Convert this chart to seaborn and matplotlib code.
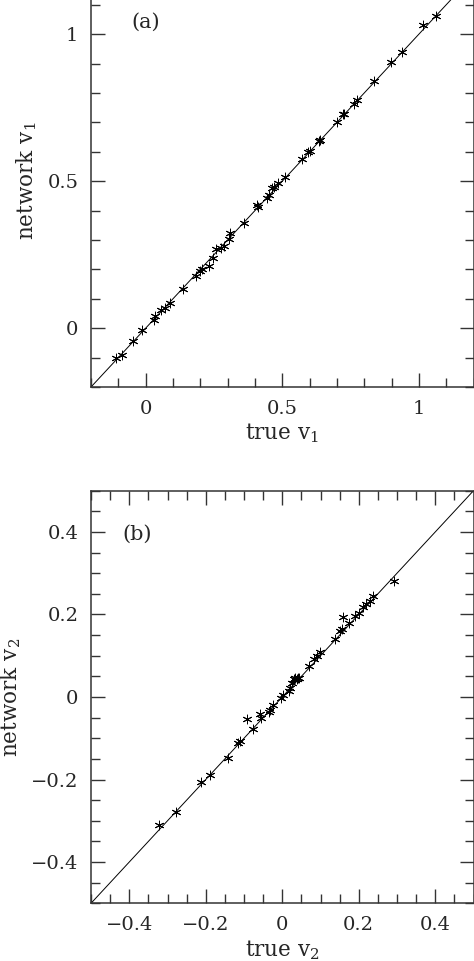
import seaborn as sns
import pandas as pd
import matplotlib.pyplot as plt
from matplotlib.ticker import MultipleLocator

# ---------------- data ----------------
# panel (a): v1
true_v1 = [-0.110, -0.086, -0.047, -0.012, 0.029, 0.034, 0.056, 0.070, 0.088, 0.137,
           0.185, 0.199, 0.207, 0.231, 0.245, 0.259, 0.274, 0.286, 0.305, 0.310,
           0.361, 0.407, 0.413, 0.443, 0.450, 0.461, 0.470, 0.485, 0.510, 0.573,
           0.600, 0.596, 0.637, 0.633, 0.700, 0.727, 0.724, 0.764, 0.774, 0.834,
           0.898, 0.937, 1.015, 1.061]
net_v1 = [-0.102, -0.091, -0.045, -0.006, 0.028, 0.042, 0.062, 0.068, 0.085, 0.135,
          0.176, 0.196, 0.200, 0.213, 0.238, 0.268, 0.272, 0.280, 0.302, 0.323,
          0.357, 0.419, 0.411, 0.442, 0.453, 0.476, 0.479, 0.493, 0.515, 0.575,
          0.604, 0.600, 0.640, 0.636, 0.702, 0.730, 0.727, 0.764, 0.776, 0.840,
          0.904, 0.940, 1.031, 1.062]

# panel (b): v2
true_v2 = [-0.322, -0.277, -0.213, -0.190, -0.141, -0.115, -0.111, -0.091, -0.077, -0.057,
           -0.055, -0.035, -0.031, -0.023, -0.003, 0.002, 0.017, 0.021, 0.026, 0.030,
           0.033, 0.038, 0.041, 0.045, 0.070, 0.084, 0.091, 0.099, 0.137, 0.152,
           0.157, 0.160, 0.174, 0.189, 0.200, 0.211, 0.218, 0.230, 0.237, 0.291]
net_v2 = [-0.311, -0.279, -0.206, -0.188, -0.148, -0.111, -0.107, -0.054, -0.077, -0.042,
          -0.050, -0.036, -0.032, -0.019, -0.002, 0.006, 0.015, 0.023, 0.035, 0.043,
          0.045, 0.043, 0.047, 0.045, 0.075, 0.091, 0.100, 0.109, 0.140, 0.160,
          0.166, 0.193, 0.179, 0.197, 0.203, 0.218, 0.225, 0.233, 0.244, 0.282]

df1 = pd.DataFrame({'true': true_v1, 'network': net_v1})
df2 = pd.DataFrame({'true': true_v2, 'network': net_v2})

# ---------------- style ----------------
sns.set_style('ticks')
plt.rcParams['font.family'] = ['DejaVu Serif']
plt.rcParams['mathtext.fontset'] = 'dejavuserif'
plt.rcParams['axes.edgecolor'] = '#333333'

fig = plt.figure(figsize=(4.74, 9.61), dpi=100)
W, H = 474.0, 961.0
# top panel runs off the top of the page, like the reference crop
ax1 = fig.add_axes([91 / W, 574 / H, 382.5 / W, 411.6 / H])
ax2 = fig.add_axes([91 / W, 57.7 / H, 382.5 / W, 412.6 / H])

star = (6, 2, 0)


def style_axes(ax, major, minor):
    ax.xaxis.set_major_locator(MultipleLocator(major))
    ax.xaxis.set_minor_locator(MultipleLocator(minor))
    ax.yaxis.set_major_locator(MultipleLocator(major))
    ax.yaxis.set_minor_locator(MultipleLocator(minor))
    ax.tick_params(which='both', direction='in', top=True, right=True,
                   color='#333333', width=1.0, labelsize=14, pad=9)
    ax.tick_params(which='major', length=10)
    ax.tick_params(which='minor', length=6.5)
    for s in ax.spines.values():
        s.set_linewidth(1.1)
    ax.axline((0, 0), slope=1, color='black', lw=0.7, zorder=1)


def fmt(v, pos):
    if abs(v) < 1e-9:
        return '0'
    return ('%g' % v).replace('-', '\u2212')


# ---- (a)
sns.scatterplot(data=df1, x='true', y='network', ax=ax1, marker=star, s=40,
                color='black', linewidth=0.7, zorder=2)
ax1.set_xlim(-0.2, 1.2)
ax1.set_ylim(-0.2, 1.2)
style_axes(ax1, 0.5, 0.1)
ax1.xaxis.set_major_formatter(fmt)
ax1.yaxis.set_major_formatter(fmt)
ax1.set_xlabel('true v$_1$', fontsize=15.5, labelpad=3)
ax1.set_ylabel('network v$_1$', fontsize=15.5, labelpad=6)
ax1.text(0.0, 1.04, '(a)', fontsize=15, ha='center', va='center')

# ---- (b)
sns.scatterplot(data=df2, x='true', y='network', ax=ax2, marker=star, s=40,
                color='black', linewidth=0.7, zorder=2)
ax2.set_xlim(-0.5, 0.5)
ax2.set_ylim(-0.5, 0.5)
style_axes(ax2, 0.2, 0.05)
ax2.xaxis.set_major_formatter(fmt)
ax2.yaxis.set_major_formatter(fmt)
ax2.set_xlabel('true v$_2$', fontsize=15.5, labelpad=3)
ax2.set_ylabel('network v$_2$', fontsize=15.5, labelpad=6)
ax2.text(-0.38, 0.394, '(b)', fontsize=15, ha='center', va='center')

fig.savefig('out.png', dpi=100)
